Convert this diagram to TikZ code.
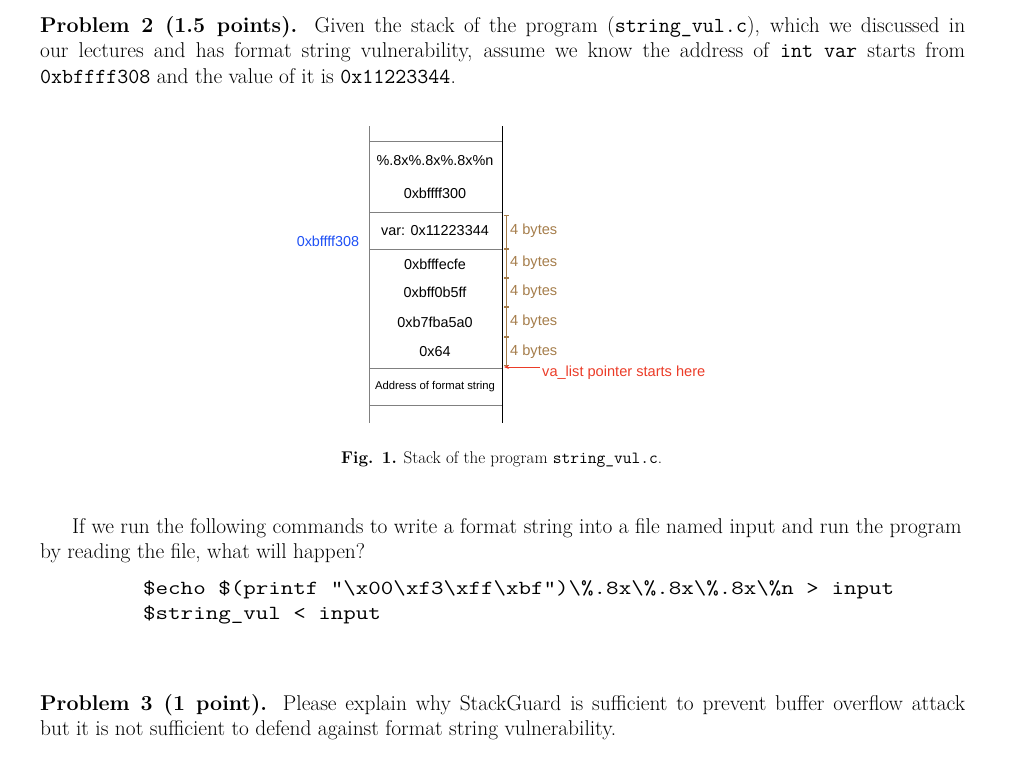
\documentclass[tikz,border=0pt]{standalone}
\usepackage{fontspec}
\newfontfamily\hv{Liberation Sans}
\usetikzlibrary{arrows.meta}
\definecolor{brn}{RGB}{165,125,75}
\definecolor{vred}{RGB}{235,60,40}
\definecolor{vblue}{RGB}{30,80,245}
\tikzset{
  txt/.style={anchor=base west,inner sep=0pt,font=\fontsize{21.4}{25}\selectfont},
  cell/.style={inner sep=0pt,font=\hv\fontsize{14.4}{16}\selectfont},
  bytes/.style={anchor=west,inner sep=0pt,text=brn,font=\hv\fontsize{14.6}{16}\selectfont},
  brk/.style={brn,line width=0.8pt,{Bar[width=5pt]}-{Bar[width=5pt]}},
  code/.style={anchor=base west,inner sep=0pt,font=\ttfamily\fontsize{20}{25}\selectfont}
}
\newcommand{\jline}[1]{\makebox[925pt][s]{#1}}
\begin{document}
\begin{tikzpicture}[x=1pt,y=-1pt]
\useasboundingbox (0,0) rectangle (1024,768);
% problem 2
\node[txt] (l1) at (40,33) {\jline{\textbf{Problem 2 (1.5 points).} Given the stack of the program (\texttt{string\_vul.c}), which we discussed in}};
\node[txt] (l2) at (40,58) {\jline{our lectures and has format string vulnerability, assume we know the address of \texttt{int var} starts from}};
\node[txt] (l3) at (40,83) {\texttt{0xbffff308} and the value of it is \texttt{0x11223344}.};
% stack
\draw[gray,line width=1pt] (369,126) -- (369,423);
\draw[black,line width=0.8pt] (502,126) -- (502,423);
\foreach \yy in {141,212,249,368,405}
  \draw[gray,line width=1pt] (369,\yy) -- (502,\yy);
\node[cell] (c1) at (435,161) {\%.8x\%.8x\%.8x\%n};
\node[cell] (c2) at (435,193) {0xbffff300};
\node[cell] (c3) at (435,231) {var: 0x11223344};
\node[cell] (c4) at (435,264) {0xbfffecfe};
\node[cell] (c5) at (435,292) {0xbff0b5ff};
\node[cell] (c6) at (435,322) {0xb7fba5a0};
\node[cell] (c7) at (435,352) {0x64};
\node[cell,font=\hv\fontsize{11.3}{13}\selectfont] (c8) at (435,387) {Address of format string};
\node[cell,text=vblue] (addr) at (328,241) {0xbffff308};
\coordinate (b0) at (506,215);
\coordinate (b1) at (506,249);
\coordinate (b2) at (506,278);
\coordinate (b3) at (506,307);
\coordinate (b4) at (506,337);
\coordinate (b5) at (506,366);
\draw[brk] (b0) -- (b1);
\draw[brk] (b1) -- (b2);
\draw[brk] (b2) -- (b3);
\draw[brk] (b3) -- (b4);
\draw[brk] (b4) -- (b5);
\node[bytes] (t1) at (510,231) {4 bytes};
\node[bytes] (t2) at (510,263) {4 bytes};
\node[bytes] (t3) at (510,292) {4 bytes};
\node[bytes] (t4) at (510,322) {4 bytes};
\node[bytes] (t5) at (510,352) {4 bytes};
\coordinate (vs) at (540,367);
\coordinate (ve) at (504,367);
\draw[vred,line width=0.8pt,-{Stealth[length=5pt,width=4pt]}] (vs) -- (ve);
\node[bytes,text=vred] (vl) at (542,373) {va\_list pointer starts here};
% caption
\node[anchor=base west,inner sep=0pt,font=\fontsize{17}{19}\selectfont] (cap) at (341,463) {\textbf{Fig. 1.} Stack of the program \texttt{string\_vul.c}.};
% question
\node[txt] (q1) at (72,533) {If we run the following commands to write a format string into a file named input and run the program};
\node[txt] (q2) at (40,558) {by reading the file, what will happen?};
\node[code] (k1) at (143,594) {\scalebox{1.215}[1]{\$echo \$(printf "\textbackslash x00\textbackslash xf3\textbackslash xff\textbackslash xbf")\textbackslash\%.8x\textbackslash\%.8x\textbackslash\%.8x\textbackslash\%n > input}};
\node[code] (k2) at (143,619) {\scalebox{1.215}[1]{\$string\_vul < input}};
% problem 3
\node[txt] (p1) at (40,710) {\jline{\textbf{Problem 3 (1 point).} Please explain why StackGuard is sufficient to prevent buffer overflow attack}};
\node[txt] (p2) at (40,735) {but it is not sufficient to defend against format string vulnerability.};
\end{tikzpicture}
\end{document}
